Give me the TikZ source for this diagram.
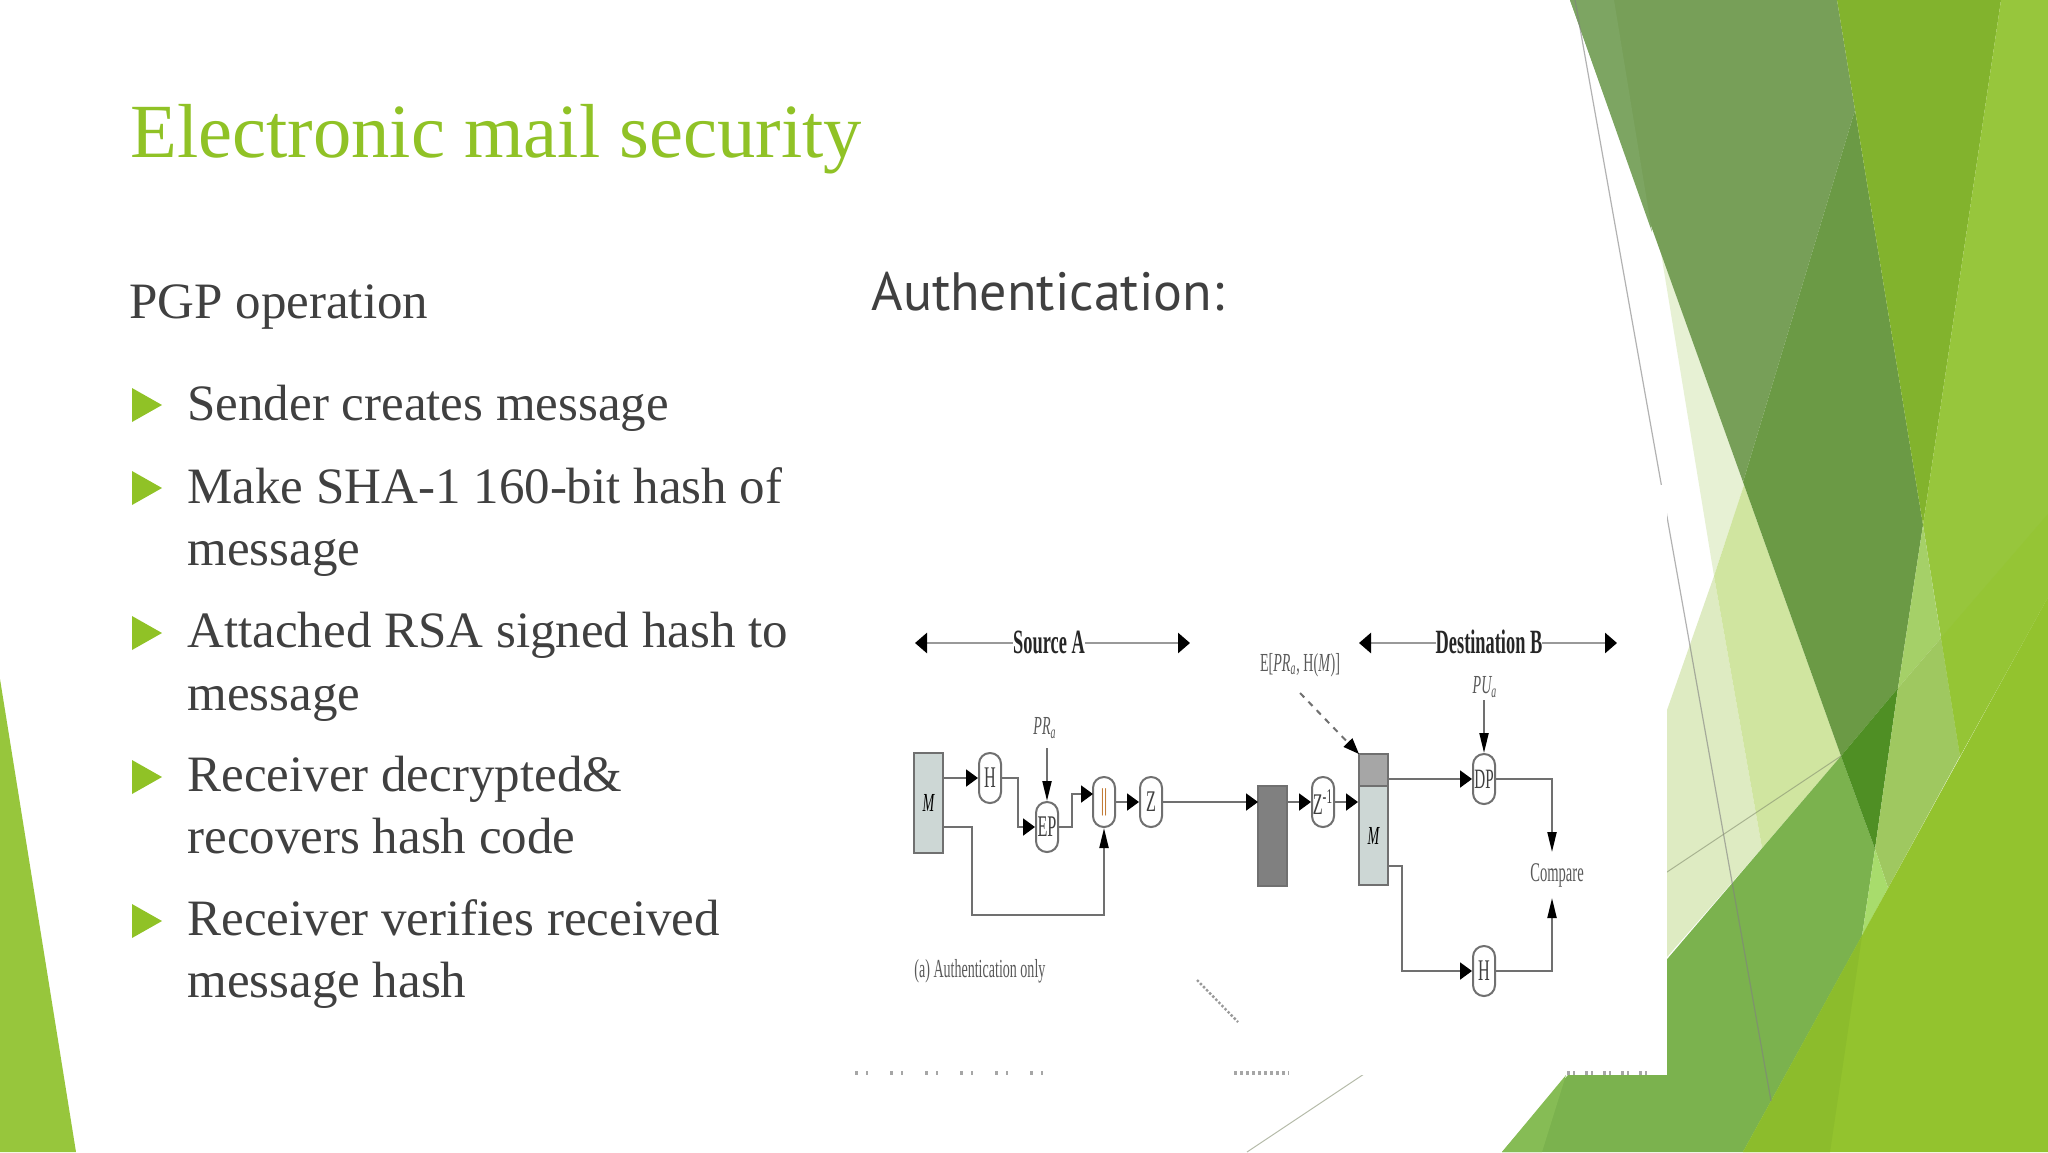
\documentclass[tikz,border=0pt]{standalone}
\usepackage{fontspec}
\setmainfont{Liberation Serif}
\newfontfamily\tightfont[FakeStretch=0.54]{Liberation Serif}
\newfontfamily\authfont{PT Sans}
\usetikzlibrary{arrows.meta}

\definecolor{accent}{HTML}{90C226}
\definecolor{bodygray}{HTML}{404040}
\definecolor{linegray}{HTML}{707070}
\definecolor{boxfill}{HTML}{CDD7D5}
\definecolor{facetA}{HTML}{779F58}
\definecolor{facetB}{HTML}{6B9A45}
\definecolor{facetC}{HTML}{82B32D}
\definecolor{facetD}{HTML}{97C63C}
\definecolor{facetE}{HTML}{4F8F24}
\definecolor{facetF}{HTML}{A5D068}
\definecolor{facetG}{HTML}{9FC860}
\definecolor{facetH}{HTML}{A8DC6C}
\definecolor{facetI}{HTML}{93C32E}
\definecolor{facetJ}{HTML}{7BB24E}
\definecolor{facetK}{HTML}{8CBC2C}
\definecolor{facetL}{HTML}{7DA562}
\definecolor{facetM}{HTML}{DEEBC2}
\definecolor{facetN}{HTML}{D0E5A0}
\definecolor{facetO}{HTML}{E7F1D4}

\begin{document}
\begin{tikzpicture}[
    x=0.5pt, y=-0.5pt,
    bodytext/.style={anchor=base west, inner sep=0pt, font=\fontsize{25.5}{28}\selectfont, text=bodygray},
    roundbox/.style={draw=linegray, line width=1pt, fill=white, rounded corners=5.4pt,
        minimum width=11pt, minimum height=25pt, inner sep=0pt,
        font=\tightfont\fontsize{15}{16}\selectfont, text=black!75},
    tallbox/.style={draw=linegray, line width=1pt, minimum width=14.5pt, inner sep=0pt},
    hlink/.style={draw=linegray, line width=1pt, -{Triangle[length=6pt,width=8.5pt,black]}},
    vlink/.style={draw=linegray, line width=1pt, -{Triangle[length=10pt,width=4.5pt,black]}},
    span/.style={draw=black!40, line width=1.4pt, {Triangle[length=6pt,width=10pt,black]}-{Triangle[length=6pt,width=10pt,black]}},
    head/.style={inner sep=0pt, fill=white, font=\tightfont\fontsize{17}{18}\bfseries\selectfont, text=black!85},
    small/.style={inner sep=0pt, font=\tightfont\fontsize{13}{14}\selectfont, text=black!65},
    cutoff/.style={black!35, line width=2pt}
]
    \useasboundingbox (0,0) rectangle (2048,1152);
    \fill[white] (0,0) rectangle (2048,1152);

    % facets on the left and right
    \fill[facetD] (0,679) -- (76,1152) -- (0,1152) -- cycle;
    \fill[facetO] (1661,253) -- (1744,485) -- (1714,576) -- cycle;
    \fill[facetM] (1714,576) -- (1762,848) -- (1660,965) -- (1660,730) -- cycle;
    \fill[facetN] (1744,485) -- (1841,756) -- (1762,848) -- (1714,576) -- cycle;
    \fill[facetJ] (1502,1152) -- (1841,756) -- (1875,849) -- (1862,936) -- (1743,1152) -- cycle;
    \fill[facetH!25!facetJ] (1502,1152) -- (1566,1075) -- (1542,1152) -- cycle;
    \fill[facetA] (1570,0) -- (1837,0) -- (1855,110) -- (1743,482) -- cycle;
    \fill[facetL] (1570,0) -- (1614,0) -- (1652,232) -- cycle;
    \fill[facetB] (1855,110) -- (1923,525) -- (1898,688) -- (1841,756) -- (1743,482) -- cycle;
    \fill[facetC] (1837,0) -- (2001,0) -- (1923,525) -- cycle;
    \fill[facetE] (1841,756) -- (1898,688) -- (1875,849) -- cycle;
    \fill[facetD] (2001,0) -- (2048,0) -- (2048,597) -- (1960,756) -- (1923,525) -- cycle;
    \fill[facetF] (1923,525) -- (1941,638) -- (1898,688) -- cycle;
    \fill[facetG] (1898,688) -- (1941,638) -- (1960,756) -- (1888,888) -- (1875,849) -- cycle;
    \fill[facetH] (1875,849) -- (1888,888) -- (1862,936) -- cycle;
    \fill[facetI] (1743,1152) -- (2048,597) -- (2048,1152) -- cycle;
    \fill[facetK] (1743,1152) -- (1862,936) -- (1830,1152) -- cycle;
    \fill[facetI!50!facetD] (1941,638) -- (2048,514) -- (2048,597) -- (1960,756) -- cycle;

    % thin lines
    \draw[gray, opacity=0.6, line width=0.6pt] (1575,0) -- (1771,1101);
    \draw[gray!80!accent, opacity=0.6, line width=0.5pt] (1247,1152) -- (1841,756);

    % white picture area
    \fill[white] (850,485) rectangle (1667,1075);

    % title and text
    \node[anchor=base west, inner sep=0pt, font=\fontsize{38.3}{42}\selectfont, text=accent] (title) at (130,157) {Electronic mail security};
    \node[bodytext] (subtitle) at (129,318) {PGP operation};
    \node[anchor=base west, inner sep=0pt, font=\authfont\fontsize{27}{30}\selectfont, text=bodygray] (auth) at (871,310) {Authentication:};

    \fill[accent] (132,388) -- (162,405) -- (132,422) -- cycle;
    \fill[accent] (132,471) -- (162,488) -- (132,505) -- cycle;
    \fill[accent] (132,616) -- (162,633) -- (132,650) -- cycle;
    \fill[accent] (132,760) -- (162,777) -- (132,794) -- cycle;
    \fill[accent] (132,904) -- (162,921) -- (132,938) -- cycle;
    \node[bodytext] (l1) at (187,420) {Sender creates message};
    \node[bodytext] (l2) at (187,503) {Make SHA-1 160-bit hash of};
    \node[bodytext] (l3) at (187,565) {message};
    \node[bodytext] (l4) at (187,647) {Attached RSA signed hash to};
    \node[bodytext] (l5) at (187,710) {message};
    \node[bodytext] (l6) at (187,791) {Receiver decrypted\&};
    \node[bodytext] (l7) at (187,853) {recovers hash code};
    \node[bodytext] (l8) at (187,935) {Receiver verifies received};
    \node[bodytext] (l9) at (187,997) {message hash};

    % source side
    \coordinate (sl) at (915,643);
    \coordinate (sr) at (1190,643);
    \draw[span] (sl) -- (sr);
    \node[head] (source) at (1049,642) {Source A};
    \node[tallbox, fill=boxfill, minimum height=50pt, font=\tightfont\fontsize{13}{14}\selectfont\itshape] (m) at (928.5,802.5) {M};
    \node[roundbox] (h) at (990,778) {H};
    \node[roundbox] (ep) at (1047,827) {EP};
    \node[roundbox] (conc) at (1104,802) {\textcolor{orange!70!black}{||}};
    \node[roundbox] (z) at (1151,802) {Z};
    \node[small] (pra) at (1045,728) {\itshape PR\textsubscript{a}};
    \node[tallbox, fill=black!50, minimum height=50pt] (pipe) at (1272.5,835.5) {};
    \coordinate (ma) at (943,778);
    \coordinate (mb) at (943,827);
    \coordinate (hb) at (1018,778);
    \coordinate (hc) at (1018,827);
    \coordinate (ea) at (1072,827);
    \coordinate (eb) at (1072,794);
    \coordinate (cc) at (1093,794);
    \coordinate (lb) at (972,827);
    \coordinate (lc) at (972,915);
    \coordinate (ld) at (1104,915);
    \coordinate (pw) at (1258,802);
    \coordinate (pe) at (1287,802);
    \coordinate (pratop) at (1047,748);
    \draw[hlink] (ma) -- (h);
    \draw[hlink] (h.east |- hb) -- (hb) -- (hc) -- (ep);
    \draw[vlink] (pratop) -- (ep);
    \draw[hlink] (ep) -- (ea) -- (eb) -- (cc);
    \draw[vlink] (mb) -- (lb) -- (lc) -- (ld) -- (conc);
    \draw[hlink] (conc) -- (z);
    \draw[hlink] (z) -- (pw);
    \node[small, anchor=west] (cap) at (914,971) {(a) Authentication only};

    % destination side
    \coordinate (dl) at (1359,643);
    \coordinate (dr) at (1617,643);
    \draw[span] (dl) -- (dr);
    \node[head] (dest) at (1489,642) {Destination B};
    \node[roundbox] (zi) at (1323,802) {Z\textsuperscript{-1}};
    \node[tallbox, fill=boxfill, minimum height=49.5pt, font=\tightfont\fontsize{13}{14}\selectfont\itshape] (m2) at (1373.5,835.5) {M};
    \node[tallbox, fill=black!35, minimum height=16pt] (sig) at (1373.5,770) {};
    \node[roundbox, font=\tightfont\fontsize{14}{15}\selectfont] (dp) at (1484,779) {DP};
    \node[roundbox] (h2) at (1484,971) {H};
    \node[small] (pua) at (1485,687) {\itshape PU\textsubscript{a}};
    \node[small] (sigtext) at (1300,665) {E[\textit{PR\textsubscript{a}}, H(\textit{M})]};
    \node[small, font=\tightfont\fontsize{13.5}{16}\selectfont] (cmp) at (1557,875) {Compare};
    \coordinate (sa) at (1388,779);
    \coordinate (ra) at (1552,779);
    \coordinate (rb) at (1552,852);
    \coordinate (rc) at (1552,971);
    \coordinate (rd) at (1552,898);
    \coordinate (ma2) at (1388,866);
    \coordinate (mb2) at (1402,866);
    \coordinate (mc2) at (1402,971);
    \coordinate (puatop) at (1484,700);
    \coordinate (dash) at (1300,693);
    \coordinate (dashend) at (1359,754);
    \draw[hlink] (pe) -- (zi);
    \draw[hlink] (zi) -- (m2.west |- zi);
    \draw[hlink] (sa) -- (dp);
    \draw[vlink] (puatop) -- (dp);
    \draw[vlink] (dp) -- (ra) -- (rb);
    \draw[vlink] (h2) -- (rc) -- (rd);
    \draw[hlink] (ma2) -- (mb2) -- (mc2) -- (h2);
    \draw[draw=linegray, line width=1pt, dashed, -{Triangle[length=8pt,width=6pt,black]}] (dash) -- (dashend);

    % stray marks left in the picture
    \coordinate (fa) at (1197,980);
    \coordinate (fb) at (1238,1022);
    \draw[black!40, densely dotted, line width=1.2pt] (fa) -- (fb);
    \coordinate (ca) at (855,1073);
    \coordinate (cb) at (1062,1073);
    \coordinate (cc2) at (1234,1073);
    \coordinate (cd) at (1289,1073);
    \coordinate (ce) at (1567,1073);
    \coordinate (cf) at (1655,1073);
    \draw[cutoff, dash pattern=on 1.5pt off 4pt on 1pt off 11pt] (ca) -- (cb);
    \draw[cutoff, dash pattern=on 1.5pt off 1.5pt] (cc2) -- (cd);
    \draw[cutoff, dash pattern=on 1.5pt off 1.5pt on 1pt off 5pt] (ce) -- (cf);
\end{tikzpicture}
\end{document}
